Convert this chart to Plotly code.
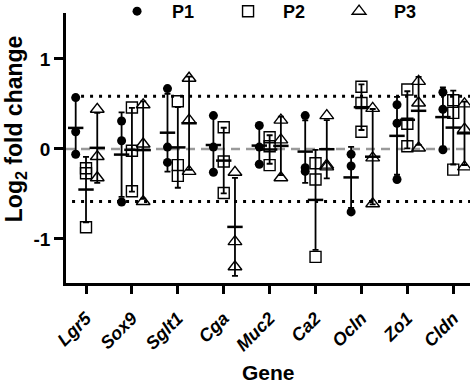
import numpy as np
import plotly.graph_objects as go

genes = ["Lgr5", "Sox9", "Sglt1", "Cga", "Muc2", "Ca2", "Ocln", "Zo1", "Cldn"]

p1 = [[0.57, 0.19, -0.06], [0.31, 0.09, -0.59], [0.67, 0.02, -0.15],
      [0.37, 0.02, -0.26], [0.26, 0.02, -0.17], [0.37, -0.21, -0.25],
      [-0.06, -0.19, -0.70], [0.49, 0.285, -0.34], [0.63, 0.44, -0.01]]
p2 = [[-0.215, -0.27, -0.87], [0.46, -0.02, -0.47], [0.53, -0.18, -0.30],
      [0.24, -0.14, -0.49], [0.13, 0.03, -0.18], [-0.16, -0.34, -1.20],
      [0.69, 0.51, 0.19], [0.66, 0.28, 0.03], [0.54, 0.40, -0.23]]
p3 = [[0.44, -0.085, -0.32], [0.49, 0.055, -0.585], [0.785, 0.32, -0.25],
      [-0.26, -1.03, -1.31], [0.32, 0.10, -0.32], [0.37, -0.18, -0.20],
      [0.45, -0.10, -0.61], [0.75, 0.51, 0.01], [0.50, 0.22, -0.20]]

series = [("P1", p1, -0.225, dict(symbol="circle", size=9, color="black")),
          ("P2", p2, 0.0, dict(symbol="square-open", size=11, color="black",
                               line=dict(width=1.4, color="black"))),
          ("P3", p3, 0.245, dict(symbol="triangle-up-open", size=12, color="black",
                                 line=dict(width=1.4, color="black")))]

FONT = "Liberation Sans, Arial"
fig = go.Figure()
idx = np.arange(len(genes))
for name, vals, off, mk in series:
    arr = np.array(vals)
    means = arr.mean(axis=1)
    sds = arr.std(axis=1, ddof=1)
    fig.add_trace(go.Scatter(
        x=idx + off, y=means, mode="markers", showlegend=False,
        marker=dict(symbol="line-ew", size=11, color="black",
                    line=dict(width=2.5, color="black")),
        error_y=dict(type="data", array=sds, visible=True, color="black",
                     thickness=1.8, width=3)))
    xs = np.repeat(idx + off, arr.shape[1])
    fig.add_trace(go.Scatter(x=xs, y=arr.flatten(), mode="markers",
                             name="\u00a0\u00a0" + name, marker=mk))

thr = np.log2(1.5)
for yv in (thr, -thr):
    fig.add_shape(type="line", xref="paper", yref="y", x0=0.015, x1=1, y0=yv, y1=yv,
                  line=dict(color="black", width=3, dash="3px,6px"), layer="below")
fig.add_shape(type="line", xref="paper", yref="y", x0=0, x1=1, y0=0, y1=0,
              line=dict(color="#9a9a9a", width=2.5, dash="9px,6px"), layer="below")

fig.add_annotation(text="<b>Log<sub>2</sub> fold change</b>", textangle=-90,
                   xref="paper", yref="paper", x=-0.126, y=0.57,
                   xanchor="center", yanchor="middle",
                   showarrow=False, font=dict(size=23, color="black", family=FONT))
fig.add_annotation(text="<b>Gene</b>", xref="paper", yref="paper", x=0.5, y=-0.33,
                   xanchor="center", yanchor="middle", showarrow=False,
                   font=dict(size=21, color="black", family=FONT))

fig.update_layout(
    width=474, height=384,
    margin=dict(l=66, r=4, t=13, b=101, autoexpand=False),
    plot_bgcolor="white", paper_bgcolor="white",
    font=dict(family=FONT, color="black"),
    legend=dict(orientation="h", x=0.114, y=1.0056, xanchor="left", yanchor="middle",
                font=dict(size=18, weight="bold"), entrywidth=56, itemwidth=40,
                entrywidthmode="pixels", bgcolor="rgba(0,0,0,0)"),
    xaxis=dict(range=[-0.436, 8.365], tickmode="array", tickvals=list(idx),
               ticktext=genes, tickangle=-45, showgrid=False, zeroline=False,
               showline=True, linecolor="black", linewidth=2.5,
               ticks="outside", ticklen=8, tickwidth=2.5, tickcolor="black",
               ticklabelstandoff=7,
               tickfont=dict(size=18, weight="bold", style="italic")),
    yaxis=dict(range=[-1.49, 1.51], tickvals=[-1, 0, 1], ticktext=["-1", "0", "1"],
               showgrid=False, zeroline=False, showline=True, linecolor="black",
               linewidth=2.5, ticks="outside", ticklen=9, tickwidth=2.5,
               tickcolor="black", tickfont=dict(size=19, weight="bold")),
)

fig.write_html("out.html", config={"displayModeBar": False},
               post_script="document.body.style.margin='0px';")
